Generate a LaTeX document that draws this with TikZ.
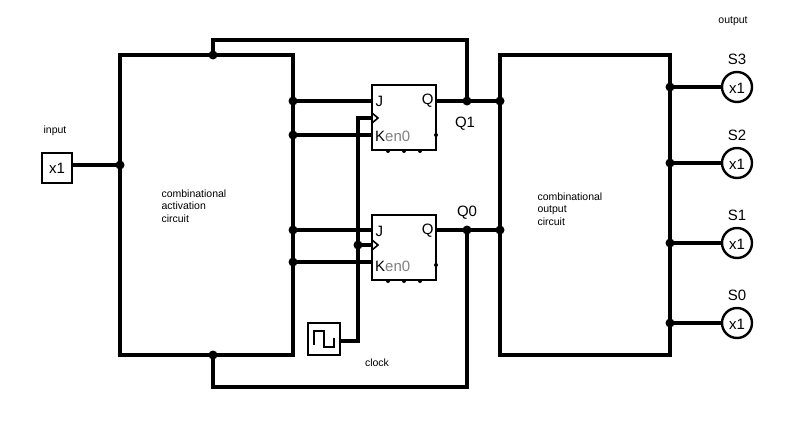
\documentclass[tikz,border=0pt]{standalone}
\usepackage{fontspec}
\setmainfont{Liberation Sans}
\begin{document}
\begin{tikzpicture}[x=1pt,y=-1pt,
 w/.style={line width=4pt},
 bx/.style={line width=2.4pt},
 dot/.style={circle,fill,inner sep=0pt,minimum size=9pt},
 lbl/.style={font=\fontsize{10.5}{12.5}\selectfont,align=left},
 big/.style={font=\fontsize{15}{16}\selectfont}]
\useasboundingbox (0,0) rectangle (808,423);
% boxes
\draw[w] (120,55) rectangle (293,355);
\draw[w] (500,55) rectangle (670,355);
\coordinate (lt) at (213,55); \coordinate (lb) at (213,355);
% flip-flops
\foreach \n/\y in {A/85,B/215}{
 \draw[bx] (372,\y) rectangle (436,\y+65);
 \node[big,anchor=west] at (372,\y+16) {J};
 \node[big,anchor=east] at (437,\y+16) {Q};
 \node[big,anchor=west,inner sep=1pt] at (374,\y+51) {K\textcolor{gray}{en0}};
 \foreach \dx in {388,404,420} \fill (\dx,\y+66) circle (2pt);
 \fill (436,\y+50) circle (2pt);
}
\draw[w] (lt) -- (213,40) -- (467,40) -- (467,101);
\draw[w] (lb) -- (213,387) -- (467,387) -- (467,230);
\foreach \y in {101,135,230,262}{\draw[w] (293,\y) -- (372,\y); \node[dot] at (293,\y) {};}
\draw[w] (436,101) -- (500,101); \draw[w] (436,230) -- (500,230);
\node[dot] at (467,101) {}; \node[dot] at (500,101) {};
\node[dot] at (467,230) {}; \node[dot] at (500,230) {};
\node[dot] at (lt) {}; \node[dot] at (lb) {};
% clock
\draw[bx] (308,323) rectangle (340,355);
\draw[line width=2pt] (314,345) -- (314,331) -- (324,331) -- (324,347) -- (334,347) -- (334,338);
\draw[w] (340,341) -- (358,341) -- (358,118) -- (372,118);
\draw[w] (358,245) -- (372,245);
\node[dot] at (358,245) {};
\draw[line width=1.6pt] (372,113) -- (378,118) -- (372,123);
\draw[line width=1.6pt] (372,240) -- (378,245) -- (372,250);
% input
\draw[bx] (42,153) rectangle (72,183);
\node[big] at (57,168) {x1};
\draw[w] (72,165) -- (120,165); \node[dot] at (120,165) {};
% outputs
\foreach \y/\s in {87/S3,163/S2,243/S1,323/S0}{
 \draw[w] (670,\y) -- (722,\y); \node[dot] at (670,\y) {};
 \draw[bx,fill=white] (737,\y) circle (15);
 \node[big] at (737,\y+1) {x1};
 \node[big] at (737,\y-28) {\s};
}
% labels
\node[lbl] at (55,131) {input};
\node[lbl] at (733,21) {output};
\node[lbl,anchor=north west] at (158,186) {combinational\\activation\\circuit};
\node[lbl,anchor=north west] at (534,189) {combinational\\output\\circuit};
\node[lbl] at (377,363) {clock};
\node[big] at (465,124) {Q1};
\node[big] at (467,213) {Q0};
\end{tikzpicture}
\end{document}
